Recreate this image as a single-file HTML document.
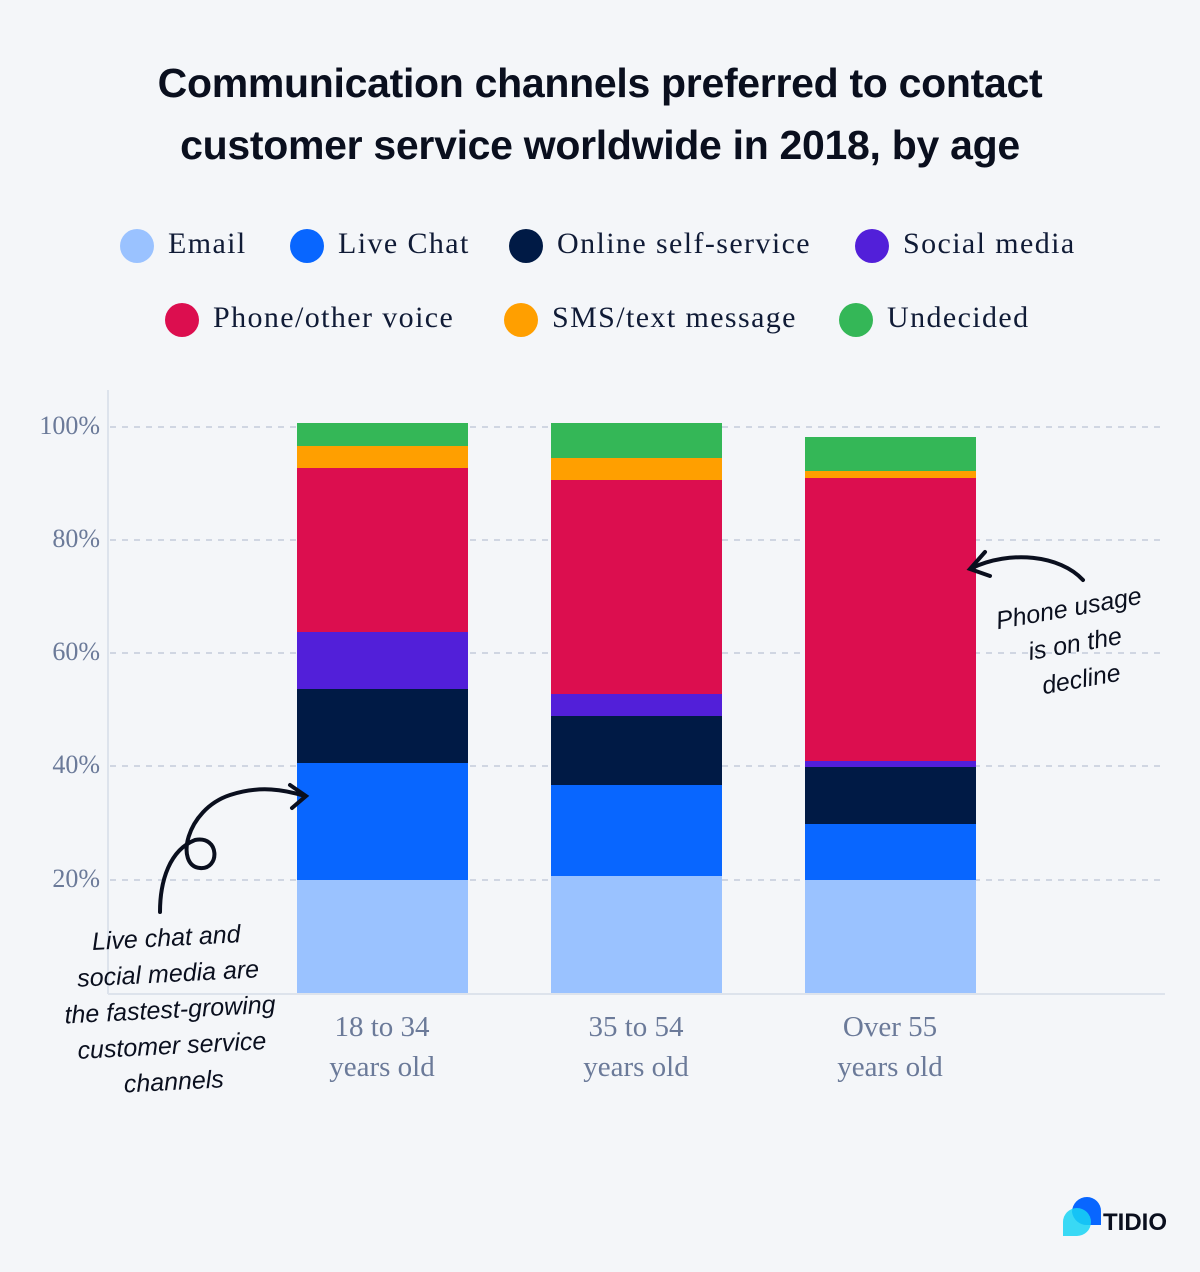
<!DOCTYPE html>
<html><head><meta charset="utf-8"><style>
body{margin:0;background:#f4f6f9;}
#c{position:relative;width:1200px;height:1272px;background:#f4f6f9;overflow:hidden;font-family:"Liberation Serif",serif;}
.t{position:absolute;left:0;width:1200px;text-align:center;font-family:"Liberation Sans",sans-serif;font-weight:bold;font-size:41px;color:#0a0f1e;letter-spacing:-0.3px}
.lg{position:absolute;font-size:30px;color:#101b36;white-space:nowrap;letter-spacing:1.4px}
.dot{position:absolute;width:34px;height:34px;border-radius:50%}
.yl{position:absolute;left:18px;width:82px;text-align:right;font-size:26px;color:#6b7a99}
.xl{position:absolute;width:200px;text-align:center;font-size:29px;color:#6b7a99;line-height:40px}
.hw{position:absolute;font-family:"Liberation Sans",sans-serif;font-style:italic;font-size:25px;color:#0a0f1e;text-align:center;line-height:36px}
</style></head><body><div id="c">
<div class="t" style="top:60px">Communication channels preferred to contact</div>
<div class="t" style="top:122px">customer service worldwide in 2018, by age</div>

<div class="dot" style="left:120px;top:229px;background:#9ac2ff"></div><div class="lg" style="left:168px;top:227px">Email</div>
<div class="dot" style="left:290px;top:229px;background:#0866ff"></div><div class="lg" style="left:338px;top:227px">Live Chat</div>
<div class="dot" style="left:509px;top:229px;background:#001a45"></div><div class="lg" style="left:557px;top:227px">Online self-service</div>
<div class="dot" style="left:855px;top:229px;background:#521fd9"></div><div class="lg" style="left:903px;top:227px">Social media</div>
<div class="dot" style="left:165px;top:303px;background:#dc0e4f"></div><div class="lg" style="left:213px;top:301px">Phone/other voice</div>
<div class="dot" style="left:504px;top:303px;background:#ff9f00"></div><div class="lg" style="left:552px;top:301px">SMS/text message</div>
<div class="dot" style="left:839px;top:303px;background:#34b757"></div><div class="lg" style="left:887px;top:301px">Undecided</div>

<svg style="position:absolute;left:0;top:0" width="1200" height="1272">
<g stroke="#c3ccdb" stroke-width="1.5" stroke-dasharray="6,6">
<line x1="110" y1="427" x2="1165" y2="427"/><line x1="110" y1="540" x2="1165" y2="540"/>
<line x1="110" y1="653" x2="1165" y2="653"/><line x1="110" y1="766" x2="1165" y2="766"/>
<line x1="110" y1="880" x2="1165" y2="880"/></g>
<line x1="108" y1="390" x2="108" y2="994" stroke="#dde3ec" stroke-width="2"/>
<line x1="108" y1="994" x2="1165" y2="994" stroke="#dde3ec" stroke-width="2"/>
<g>
<rect x="297" y="880" width="171" height="113" fill="#9ac2ff"/><rect x="297" y="763" width="171" height="117" fill="#0866ff"/>
<rect x="297" y="689" width="171" height="74" fill="#001a45"/><rect x="297" y="632" width="171" height="57" fill="#521fd9"/>
<rect x="297" y="468" width="171" height="164" fill="#dc0e4f"/><rect x="297" y="446" width="171" height="22" fill="#ff9f00"/>
<rect x="297" y="423" width="171" height="23" fill="#34b757"/>
<rect x="551" y="876" width="171" height="117" fill="#9ac2ff"/><rect x="551" y="785" width="171" height="91" fill="#0866ff"/>
<rect x="551" y="716" width="171" height="69" fill="#001a45"/><rect x="551" y="694" width="171" height="22" fill="#521fd9"/>
<rect x="551" y="480" width="171" height="214" fill="#dc0e4f"/><rect x="551" y="458" width="171" height="22" fill="#ff9f00"/>
<rect x="551" y="423" width="171" height="35" fill="#34b757"/>
<rect x="805" y="880" width="171" height="113" fill="#9ac2ff"/><rect x="805" y="824" width="171" height="56" fill="#0866ff"/>
<rect x="805" y="767" width="171" height="57" fill="#001a45"/><rect x="805" y="761" width="171" height="6" fill="#521fd9"/>
<rect x="805" y="478" width="171" height="283" fill="#dc0e4f"/><rect x="805" y="471" width="171" height="7" fill="#ff9f00"/>
<rect x="805" y="437" width="171" height="34" fill="#34b757"/>
</g>
<g fill="none" stroke="#0a0f1e" stroke-width="4" stroke-linecap="round">
<path d="M160 912 C160 880 170 850 195 840 C220 835 220 870 200 868 C175 866 185 810 230 795 C260 785 285 790 305 796"/>
<path d="M290 785 L306 796 L292 808"/>
<path d="M1083 580 C1060 555 1010 550 972 568"/>
<path d="M985 552 L970 569 L990 576"/>
</g>
<g>
<path d="M1072 1212 a15 15 0 0 1 15 -15 l0 0 a14 14 0 0 1 14 14 l0 14 l-14 0 a15 15 0 0 1 -15 -13z" fill="#0866ff"/>
<path d="M1063 1236 l0 -14 a14 14 0 0 1 14 -14 a14 14 0 0 1 14 14 a14 14 0 0 1 -14 14z" fill="#17d3f5" opacity="0.85"/>
</g>
<text x="1103" y="1230" font-family="Liberation Sans,sans-serif" font-weight="bold" font-size="24" fill="#0a0f1e">TIDIO</text>
</svg>

<div class="yl" style="top:411px">100%</div><div class="yl" style="top:524px">80%</div>
<div class="yl" style="top:637px">60%</div><div class="yl" style="top:750px">40%</div>
<div class="yl" style="top:864px">20%</div>

<div class="xl" style="left:282px;top:1007px">18 to 34<br>years old</div>
<div class="xl" style="left:536px;top:1007px">35 to 54<br>years old</div>
<div class="xl" style="left:790px;top:1007px">Over 55<br>years old</div>

<div class="hw" style="left:30px;top:920px;width:280px;transform:rotate(-3deg)">Live chat and<br>social media are<br>the fastest-growing<br>customer service<br>channels</div>
<div class="hw" style="left:985px;top:590px;width:180px;transform:rotate(-10deg)">Phone usage<br>is on the<br>decline</div>
</div></body></html>
